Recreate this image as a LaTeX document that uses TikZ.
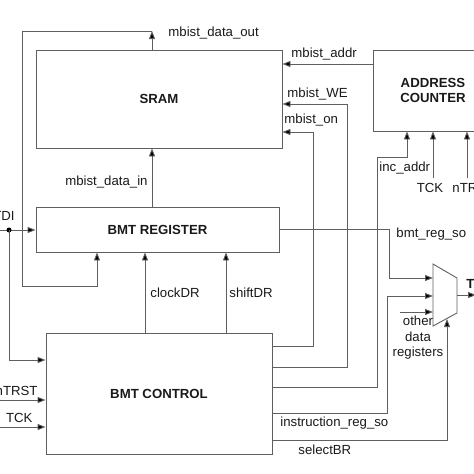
\documentclass[tikz,border=0pt]{standalone}
\usepackage{fontspec}
\setmainfont{Liberation Sans}
\usetikzlibrary{arrows.meta}
\definecolor{wire}{RGB}{95,95,95}
\definecolor{ink}{RGB}{25,25,25}

\begin{document}
\begin{tikzpicture}[x=1pt,y=-1pt,line width=0.9pt,draw=wire,text=ink,
        font=\fontsize{13.2}{15.5}\selectfont,
        >={Triangle[length=8pt,width=6pt,fill=black]},
        box/.style={draw=wire,font=\fontsize{13.2}{15.5}\selectfont\bfseries,align=center},
        lbl/.style={inner sep=0pt}]
        \useasboundingbox (0,0) rectangle (474,474);
        \clip (0,0) rectangle (474,474);

        % blocks
        \node[box,minimum width=246pt,minimum height=98pt] (sram) at (159,99) {SRAM};
        \node[box,minimum width=243pt,minimum height=45pt] (reg) at (157.5,229.5) {BMT REGISTER};
        \node[box,minimum width=226pt,minimum height=121pt] (ctrl) at (159,393.5) {BMT CONTROL};
        \node[box,minimum width=120pt,minimum height=81pt] (cnt) at (433,90.5) {ADDRESS\\COUNTER};

        % multiplexer
        \coordinate (m1) at (433,264);
        \coordinate (m2) at (457,278);
        \coordinate (m3) at (457,313);
        \coordinate (m4) at (433,326);
        \draw (m1) -- (m2) -- (m3) -- (m4) -- cycle;

        % mbist_data_out loop back into the register
        \coordinate (dout) at (152,31);
        \coordinate (loop) at (22,286);
        \draw[->] (sram.north -| dout) -- (dout);
        \draw[->] (dout) -| (loop) -| (reg.south -| 97,0);
        \node[lbl,anchor=west] at (168,33) {mbist\_data\_out};

        % mbist_data_in
        \draw[->] (reg.north -| dout) -- (sram.south -| dout);
        \node[lbl,anchor=east] at (148,182) {mbist\_data\_in};

        % TDI, nTRST, TCK
        \coordinate (tdi) at (0,230);
        \coordinate (tdot) at (9,230);
        \draw[->] (tdi) -- (reg.west |- tdi);
        \fill[black] (tdot) circle (2.5pt);
        \draw[->] (tdot) |- (ctrl.west |- 0,360);
        \node[lbl,anchor=east] at (15,216) {TDI};
        \coordinate (ntrst) at (0,400);
        \draw[->] (ntrst) -- (ctrl.west |- ntrst);
        \node[lbl,anchor=east] at (38,391) {nTRST};
        \coordinate (tck) at (0,427);
        \draw[->] (tck) -- (ctrl.west |- tck);
        \node[lbl,anchor=east] at (33,418) {TCK};

        % clockDR, shiftDR
        \draw[->] (ctrl.north -| 145,0) -- (reg.south -| 145,0);
        \node[lbl,anchor=west] at (150,293) {clockDR};
        \draw[->] (ctrl.north -| 226,0) -- (reg.south -| 226,0);
        \node[lbl,anchor=west] at (229,293) {shiftDR};

        % control signals to the SRAM
        \draw[->] (cnt.west |- 0,64) -- (sram.east |- 0,64);
        \node[lbl,anchor=west] at (291,54) {mbist\_addr};
        \draw[->] (ctrl.east |- 0,367) -| (347,104) -- (sram.east |- 0,104);
        \node[lbl,anchor=west] at (287,94) {mbist\_WE};
        \draw[->] (ctrl.east |- 0,346) -| (313,132) -- (sram.east |- 0,132);
        \node[lbl,anchor=west] at (284,120) {mbist\_on};

        % address counter inputs
        \draw[->] (ctrl.east |- 0,387) -| (377,157) -| (cnt.south -| 407,0);
        \node[lbl,anchor=west] at (379,168) {inc\_addr};
        \node[lbl] (tckc) at (430,188) {TCK};
        \draw[->] (433,178) -- (cnt.south -| 433,0);
        \node[lbl,anchor=west] (ntrstc) at (452,188) {nTRST};
        \draw[->] (467,178) -- (cnt.south -| 467,0);

        % multiplexer inputs and output
        \draw[->] (reg.east) -| (389,278) -- (m1 |- 0,278);
        \node[lbl,anchor=west] at (396,234) {bmt\_reg\_so};
        \draw[->] (ctrl.east |- 0,413) -| (387,296) -- (m1 |- 0,296);
        \node[lbl,anchor=west] at (280,423) {instruction\_reg\_so};
        \draw[->] (400,312) -- (m1 |- 0,312);
        \node[lbl,align=center] at (418,338) {other\\data\\registers};
        \draw[->] (ctrl.east |- 0,440) -| (447,319);
        \node[lbl,anchor=west] at (298,450) {selectBR};
        \draw[->] (457,295) -- (476,295);
        \node[lbl,anchor=west,font=\fontsize{13.2}{15.5}\selectfont\bfseries] at (466,284) {TDO};
    \end{tikzpicture}
\end{document}
